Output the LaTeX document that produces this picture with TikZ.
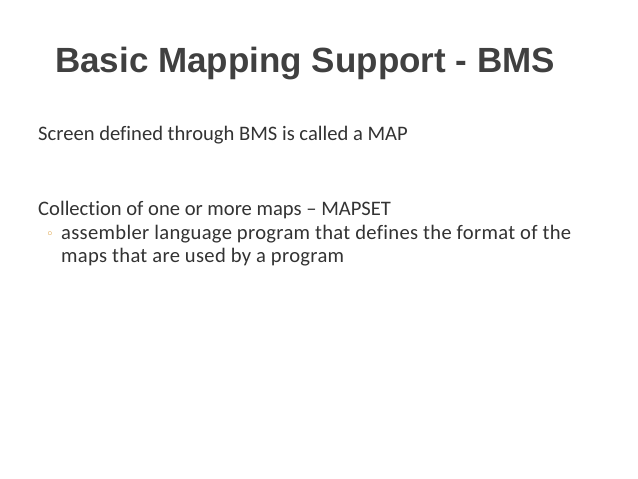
\documentclass[tikz,border=0pt]{standalone}
\usepackage{fontspec}
\setmainfont{Carlito}[Ligatures=NoCommon]
\newfontfamily\titlefont{Liberation Sans}
\newfontfamily\symfont{DejaVu Sans}
\definecolor{tgray}{HTML}{404040}
\definecolor{bgray}{HTML}{333333}
\definecolor{borange}{HTML}{D89020}
\begin{document}
\begin{tikzpicture}[x=1pt,y=1pt,
  body/.style={anchor=base west,inner sep=0pt,font=\fontsize{20.6}{24}\selectfont,text=bgray}]
\useasboundingbox[fill=white] (0,0) rectangle (638,-479);
\node[anchor=base west,inner sep=0pt,font=\titlefont\bfseries\fontsize{35}{40}\selectfont,text=tgray] (t) at (55,-72) {Basic Mapping Support - BMS};
\node[body] (a) at (38,-140) {Screen defined through BMS is called a MAP};
\node[body] (b) at (38,-215) {Collection of one or more maps – MAPSET};
\node[anchor=base west,inner sep=0pt,font=\symfont\fontsize{13}{13}\selectfont,text=borange] (bu) at (46,-238) {◦};
\node[body] (c) at (61,-239) {\addfontfeature{LetterSpace=1.5}assembler language program that defines the format of the};
\node[body] (d) at (61,-262) {\addfontfeature{LetterSpace=1.5}maps that are used by a program};
\end{tikzpicture}
\end{document}
